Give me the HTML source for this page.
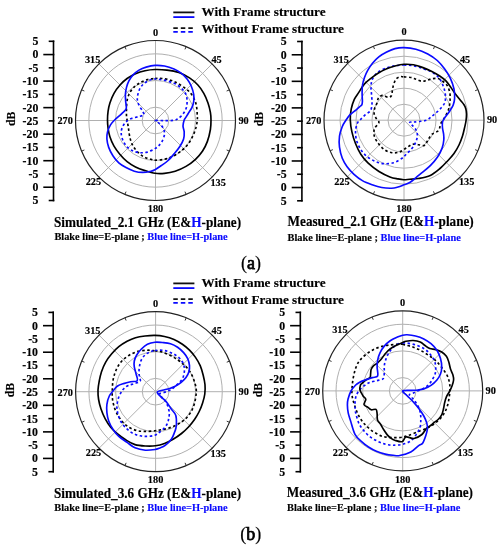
<!DOCTYPE html>
<html><head><meta charset="utf-8"><title>Radiation patterns</title><style>
html,body{margin:0;padding:0;background:#fff;}
svg{display:block;}
text{font-family:"Liberation Serif", "Times New Roman", serif;font-weight:bold;fill:#000;stroke:#000;stroke-width:0.15px;}
tspan.b{stroke:#0a0aff;}
.al{font-size:10.3px;}
.tl{font-size:11.8px;}
.tt{font-size:13.2px;}
.st{font-size:10.35px;}
.lg{font-size:13.2px;}
.sub{font-weight:normal;font-size:18px;stroke:#000;stroke-width:0.2px;}
.bl{stroke-width:0.75px;}
</style></head>
<body><svg width="504" height="550" viewBox="0 0 504 550">
<rect width="504" height="550" fill="#fff"/>
<line x1="173.3" y1="12.4" x2="194.4" y2="12.4" stroke="#111" stroke-width="1.8"/>
<line x1="173.3" y1="17.1" x2="194.4" y2="17.1" stroke="#0a0aff" stroke-width="1.8"/>
<line x1="173.3" y1="28.1" x2="194.4" y2="28.1" stroke="#111" stroke-width="1.8" stroke-dasharray="4.5 3"/>
<line x1="173.3" y1="31.9" x2="194.4" y2="31.9" stroke="#0a0aff" stroke-width="1.8" stroke-dasharray="4.5 3"/>
<text x="201.5" y="15.9" class="lg">With Frame structure</text>
<text x="201.5" y="33.3" class="lg">Without Frame structure</text>
<line x1="173.3" y1="283.4" x2="194.4" y2="283.4" stroke="#111" stroke-width="1.8"/>
<line x1="173.3" y1="288.1" x2="194.4" y2="288.1" stroke="#0a0aff" stroke-width="1.8"/>
<line x1="173.3" y1="299.1" x2="194.4" y2="299.1" stroke="#111" stroke-width="1.8" stroke-dasharray="4.5 3"/>
<line x1="173.3" y1="302.9" x2="194.4" y2="302.9" stroke="#0a0aff" stroke-width="1.8" stroke-dasharray="4.5 3"/>
<text x="201.5" y="286.9" class="lg">With Frame structure</text>
<text x="201.5" y="304.3" class="lg">Without Frame structure</text>
<circle cx="155.5" cy="120.5" r="13.33" fill="none" stroke="#b0b0b0" stroke-width="1"/>
<circle cx="155.5" cy="120.5" r="40.00" fill="none" stroke="#b0b0b0" stroke-width="1"/>
<circle cx="155.5" cy="120.5" r="66.67" fill="none" stroke="#b0b0b0" stroke-width="1"/>
<line x1="155.5" y1="120.5" x2="155.50" y2="40.50" stroke="#b0b0b0" stroke-width="1"/>
<line x1="155.5" y1="120.5" x2="212.07" y2="63.93" stroke="#b0b0b0" stroke-width="1"/>
<line x1="155.5" y1="120.5" x2="235.50" y2="120.50" stroke="#b0b0b0" stroke-width="1"/>
<line x1="155.5" y1="120.5" x2="212.07" y2="177.07" stroke="#b0b0b0" stroke-width="1"/>
<line x1="155.5" y1="120.5" x2="155.50" y2="200.50" stroke="#b0b0b0" stroke-width="1"/>
<line x1="155.5" y1="120.5" x2="98.93" y2="177.07" stroke="#b0b0b0" stroke-width="1"/>
<line x1="155.5" y1="120.5" x2="75.50" y2="120.50" stroke="#b0b0b0" stroke-width="1"/>
<line x1="155.5" y1="120.5" x2="98.93" y2="63.93" stroke="#b0b0b0" stroke-width="1"/>
<circle cx="155.5" cy="120.5" r="80.0" fill="none" stroke="#222" stroke-width="1.2"/>
<line x1="186.11" y1="46.59" x2="184.97" y2="49.36" stroke="#333" stroke-width="1"/>
<line x1="229.41" y1="89.89" x2="226.64" y2="91.03" stroke="#333" stroke-width="1"/>
<line x1="229.41" y1="151.11" x2="226.64" y2="149.97" stroke="#333" stroke-width="1"/>
<line x1="186.11" y1="194.41" x2="184.97" y2="191.64" stroke="#333" stroke-width="1"/>
<line x1="124.89" y1="194.41" x2="126.03" y2="191.64" stroke="#333" stroke-width="1"/>
<line x1="81.59" y1="151.11" x2="84.36" y2="149.97" stroke="#333" stroke-width="1"/>
<line x1="81.59" y1="89.89" x2="84.36" y2="91.03" stroke="#333" stroke-width="1"/>
<line x1="124.89" y1="46.59" x2="126.03" y2="49.36" stroke="#333" stroke-width="1"/>
<path d="M155.00,78.50 C157.45,78.32 159.52,78.22 162.10,78.50 C164.68,78.78 167.92,79.42 170.50,80.20 C173.08,80.98 175.22,81.90 177.60,83.20 C179.98,84.50 182.62,86.32 184.80,88.00 C186.98,89.68 189.02,91.22 190.70,93.30 C192.38,95.38 193.90,98.12 194.90,100.50 C195.90,102.88 196.30,105.02 196.70,107.60 C197.10,110.18 197.20,113.93 197.30,116.00 C197.40,118.07 197.50,118.15 197.30,120.00 C197.10,121.85 196.80,124.52 196.10,127.10 C195.40,129.68 194.40,132.72 193.10,135.50 C191.80,138.28 190.28,141.22 188.30,143.80 C186.32,146.38 183.77,148.92 181.20,151.00 C178.63,153.08 175.68,154.92 172.90,156.30 C170.12,157.68 167.48,158.65 164.50,159.30 C161.52,159.95 157.25,160.20 155.00,160.20 C152.75,160.20 152.87,159.85 151.00,159.30 C149.13,158.75 146.18,158.28 143.80,156.90 C141.42,155.52 138.68,153.18 136.70,151.00 C134.72,148.82 133.10,146.38 131.90,143.80 C130.70,141.22 130.10,138.28 129.50,135.50 C128.90,132.72 128.70,129.68 128.30,127.10 C127.90,124.52 127.40,121.85 127.10,120.00 C126.80,118.15 126.60,117.87 126.50,116.00 C126.40,114.13 126.40,111.38 126.50,108.80 C126.60,106.22 126.60,103.08 127.10,100.50 C127.60,97.92 128.30,95.58 129.50,93.30 C130.70,91.02 132.52,88.58 134.30,86.80 C136.08,85.02 138.02,83.80 140.20,82.60 C142.38,81.40 144.93,80.28 147.40,79.60 C149.87,78.92 152.55,78.68 155.00,78.50Z" fill="none" stroke="#000" stroke-width="1.65" stroke-linejoin="round" stroke-dasharray="2.5 2.5"/>
<path d="M155.50,120.50 C156.42,120.03 161.97,120.73 165.00,120.70 C168.03,120.67 171.60,120.60 173.70,120.30 C175.80,120.00 176.15,119.82 177.60,118.90 C179.05,117.98 181.00,116.48 182.40,114.80 C183.80,113.12 185.22,110.98 186.00,108.80 C186.78,106.62 187.10,104.08 187.10,101.70 C187.10,99.32 186.88,96.68 186.00,94.50 C185.12,92.32 183.60,90.38 181.80,88.60 C180.00,86.82 177.68,85.10 175.20,83.80 C172.72,82.50 169.77,81.57 166.90,80.80 C164.03,80.03 160.47,79.45 158.00,79.20 C155.53,78.95 154.07,78.83 152.10,79.30 C150.13,79.77 147.98,80.85 146.20,82.00 C144.42,83.15 142.68,84.52 141.40,86.20 C140.12,87.88 139.18,89.92 138.50,92.10 C137.82,94.28 137.22,97.12 137.30,99.30 C137.38,101.48 138.12,103.22 139.00,105.20 C139.88,107.18 141.80,109.60 142.60,111.20 C143.40,112.80 144.40,113.92 143.80,114.80 C143.20,115.68 141.05,115.88 139.00,116.50 C136.95,117.12 133.58,117.67 131.50,118.50 C129.42,119.33 127.92,120.25 126.50,121.50 C125.08,122.75 123.88,124.27 123.00,126.00 C122.12,127.73 121.30,129.73 121.20,131.90 C121.10,134.07 121.52,136.62 122.40,139.00 C123.28,141.38 124.72,144.20 126.50,146.20 C128.28,148.20 130.82,149.92 133.10,151.00 C135.38,152.08 137.82,152.52 140.20,152.70 C142.58,152.88 144.93,152.78 147.40,152.10 C149.87,151.42 153.15,149.62 155.00,148.60 C156.85,147.58 157.32,147.20 158.50,146.00 C159.68,144.80 161.10,143.35 162.10,141.40 C163.10,139.45 164.30,136.48 164.50,134.30 C164.70,132.12 164.13,130.10 163.30,128.30 C162.47,126.50 160.80,124.80 159.50,123.50 C158.20,122.20 154.58,120.97 155.50,120.50Z" fill="none" stroke="#0a0aff" stroke-width="1.65" stroke-linejoin="round" stroke-dasharray="2.5 2.5"/>
<path d="M155.00,69.50 C158.65,69.40 162.93,69.60 166.90,70.10 C170.87,70.60 175.03,71.20 178.80,72.50 C182.57,73.80 186.32,75.82 189.50,77.90 C192.68,79.98 195.52,82.43 197.90,85.00 C200.28,87.57 202.12,90.32 203.80,93.30 C205.48,96.28 206.90,99.72 208.00,102.90 C209.10,106.08 209.90,109.55 210.40,112.40 C210.90,115.25 211.00,117.15 211.00,120.00 C211.00,122.85 211.00,125.93 210.40,129.50 C209.80,133.07 208.70,137.82 207.40,141.40 C206.10,144.98 204.58,148.02 202.60,151.00 C200.62,153.98 198.27,156.73 195.50,159.30 C192.73,161.87 189.38,164.42 186.00,166.40 C182.62,168.38 178.78,170.03 175.20,171.20 C171.62,172.37 167.87,173.05 164.50,173.40 C161.13,173.75 158.25,173.77 155.00,173.30 C151.75,172.83 148.25,171.65 145.00,170.60 C141.75,169.55 138.48,168.48 135.50,167.00 C132.52,165.52 129.68,163.78 127.10,161.70 C124.52,159.62 122.18,157.08 120.00,154.50 C117.82,151.92 115.68,149.17 114.00,146.20 C112.32,143.23 110.88,139.68 109.90,136.70 C108.92,133.72 108.50,131.08 108.10,128.30 C107.70,125.52 107.50,122.85 107.50,120.00 C107.50,117.15 107.70,114.05 108.10,111.20 C108.50,108.35 108.92,105.88 109.90,102.90 C110.88,99.92 112.32,96.28 114.00,93.30 C115.68,90.32 117.82,87.47 120.00,85.00 C122.18,82.53 124.52,80.38 127.10,78.50 C129.68,76.62 132.52,75.00 135.50,73.70 C138.48,72.40 141.75,71.40 145.00,70.70 C148.25,70.00 151.35,69.60 155.00,69.50Z" fill="none" stroke="#000" stroke-width="1.65" stroke-linejoin="round"/>
<path d="M155.00,65.40 C158.05,65.22 161.33,65.42 164.50,66.00 C167.67,66.58 171.22,67.72 174.00,68.90 C176.78,70.08 179.02,71.42 181.20,73.10 C183.38,74.78 185.42,76.82 187.10,79.00 C188.78,81.18 190.20,83.62 191.30,86.20 C192.40,88.78 193.30,91.92 193.70,94.50 C194.10,97.08 194.00,99.52 193.70,101.70 C193.40,103.88 192.70,105.82 191.90,107.60 C191.10,109.38 189.88,110.82 188.90,112.40 C187.92,113.98 186.78,115.83 186.00,117.10 C185.22,118.37 184.70,118.52 184.20,120.00 C183.70,121.48 183.00,124.02 183.00,126.00 C183.00,127.98 184.10,129.73 184.20,131.90 C184.30,134.07 184.30,136.62 183.60,139.00 C182.90,141.38 181.50,143.82 180.00,146.20 C178.50,148.58 176.58,150.92 174.60,153.30 C172.62,155.68 170.37,158.42 168.10,160.50 C165.83,162.58 163.18,164.27 161.00,165.80 C158.82,167.33 156.67,168.80 155.00,169.70 C153.33,170.60 153.07,170.75 151.00,171.20 C148.93,171.65 145.38,172.40 142.60,172.40 C139.82,172.40 137.07,172.00 134.30,171.20 C131.53,170.40 128.58,168.98 126.00,167.60 C123.42,166.22 120.98,164.88 118.80,162.90 C116.62,160.92 114.58,158.28 112.90,155.70 C111.22,153.12 109.70,150.18 108.70,147.40 C107.70,144.62 107.10,141.58 106.90,139.00 C106.70,136.42 106.90,134.27 107.50,131.90 C108.10,129.53 109.32,126.78 110.50,124.80 C111.68,122.82 112.72,121.87 114.60,120.00 C116.48,118.13 119.87,115.47 121.80,113.60 C123.73,111.73 125.55,110.78 126.20,108.80 C126.85,106.82 125.83,104.08 125.70,101.70 C125.57,99.32 125.27,96.88 125.40,94.50 C125.53,92.12 125.92,89.68 126.50,87.40 C127.08,85.12 127.80,82.88 128.90,80.80 C130.00,78.72 131.42,76.68 133.10,74.90 C134.78,73.12 136.82,71.40 139.00,70.10 C141.18,68.80 143.53,67.88 146.20,67.10 C148.87,66.32 151.95,65.58 155.00,65.40Z" fill="none" stroke="#0a0aff" stroke-width="1.65" stroke-linejoin="round"/>
<text x="155.50" y="35.50" text-anchor="middle" class="al">0</text>
<text x="211.40" y="63.00" text-anchor="start" class="al">45</text>
<text x="238.40" y="123.50" text-anchor="start" class="al">90</text>
<text x="210.40" y="185.50" text-anchor="start" class="al">135</text>
<text x="155.50" y="212.20" text-anchor="middle" class="al">180</text>
<text x="101.10" y="185.20" text-anchor="end" class="al">225</text>
<text x="72.90" y="124.30" text-anchor="end" class="al">270</text>
<text x="100.40" y="63.00" text-anchor="end" class="al">315</text>
<line x1="53.5" y1="40.5" x2="53.5" y2="201.3" stroke="#000" stroke-width="1.6"/>
<line x1="48.70" y1="41.30" x2="54.3" y2="41.30" stroke="#000" stroke-width="1.6"/>
<text x="38.30" y="45.20" text-anchor="end" class="tl">5</text>
<line x1="43.30" y1="54.57" x2="54.3" y2="54.57" stroke="#000" stroke-width="1.6"/>
<text x="38.30" y="58.47" text-anchor="end" class="tl">0</text>
<line x1="48.70" y1="67.83" x2="54.3" y2="67.83" stroke="#000" stroke-width="1.6"/>
<text x="38.30" y="71.73" text-anchor="end" class="tl">-5</text>
<line x1="43.30" y1="81.10" x2="54.3" y2="81.10" stroke="#000" stroke-width="1.6"/>
<text x="38.30" y="85.00" text-anchor="end" class="tl">-10</text>
<line x1="48.70" y1="94.37" x2="54.3" y2="94.37" stroke="#000" stroke-width="1.6"/>
<text x="38.30" y="98.27" text-anchor="end" class="tl">-15</text>
<line x1="43.30" y1="107.63" x2="54.3" y2="107.63" stroke="#000" stroke-width="1.6"/>
<text x="38.30" y="111.53" text-anchor="end" class="tl">-20</text>
<line x1="48.70" y1="120.90" x2="54.3" y2="120.90" stroke="#000" stroke-width="1.6"/>
<text x="38.30" y="124.80" text-anchor="end" class="tl">-25</text>
<line x1="43.30" y1="134.17" x2="54.3" y2="134.17" stroke="#000" stroke-width="1.6"/>
<text x="38.30" y="138.07" text-anchor="end" class="tl">-20</text>
<line x1="48.70" y1="147.43" x2="54.3" y2="147.43" stroke="#000" stroke-width="1.6"/>
<text x="38.30" y="151.33" text-anchor="end" class="tl">-15</text>
<line x1="43.30" y1="160.70" x2="54.3" y2="160.70" stroke="#000" stroke-width="1.6"/>
<text x="38.30" y="164.60" text-anchor="end" class="tl">-10</text>
<line x1="48.70" y1="173.97" x2="54.3" y2="173.97" stroke="#000" stroke-width="1.6"/>
<text x="38.30" y="177.87" text-anchor="end" class="tl">-5</text>
<line x1="43.30" y1="187.23" x2="54.3" y2="187.23" stroke="#000" stroke-width="1.6"/>
<text x="38.30" y="191.13" text-anchor="end" class="tl">0</text>
<line x1="48.70" y1="200.50" x2="54.3" y2="200.50" stroke="#000" stroke-width="1.6"/>
<text x="38.30" y="204.40" text-anchor="end" class="tl">5</text>
<text transform="translate(14.70,118.90) rotate(-90)" text-anchor="middle" class="tl">dB</text>
<circle cx="404.0" cy="120.2" r="16.00" fill="none" stroke="#b0b0b0" stroke-width="1"/>
<circle cx="404.0" cy="120.2" r="32.00" fill="none" stroke="#b0b0b0" stroke-width="1"/>
<circle cx="404.0" cy="120.2" r="48.00" fill="none" stroke="#b0b0b0" stroke-width="1"/>
<circle cx="404.0" cy="120.2" r="64.00" fill="none" stroke="#b0b0b0" stroke-width="1"/>
<line x1="404.0" y1="120.2" x2="404.00" y2="40.20" stroke="#b0b0b0" stroke-width="1"/>
<line x1="404.0" y1="120.2" x2="460.57" y2="63.63" stroke="#b0b0b0" stroke-width="1"/>
<line x1="404.0" y1="120.2" x2="484.00" y2="120.20" stroke="#b0b0b0" stroke-width="1"/>
<line x1="404.0" y1="120.2" x2="460.57" y2="176.77" stroke="#b0b0b0" stroke-width="1"/>
<line x1="404.0" y1="120.2" x2="404.00" y2="200.20" stroke="#b0b0b0" stroke-width="1"/>
<line x1="404.0" y1="120.2" x2="347.43" y2="176.77" stroke="#b0b0b0" stroke-width="1"/>
<line x1="404.0" y1="120.2" x2="324.00" y2="120.20" stroke="#b0b0b0" stroke-width="1"/>
<line x1="404.0" y1="120.2" x2="347.43" y2="63.63" stroke="#b0b0b0" stroke-width="1"/>
<circle cx="404.0" cy="120.2" r="80.0" fill="none" stroke="#222" stroke-width="1.2"/>
<line x1="434.61" y1="46.29" x2="433.47" y2="49.06" stroke="#333" stroke-width="1"/>
<line x1="477.91" y1="89.59" x2="475.14" y2="90.73" stroke="#333" stroke-width="1"/>
<line x1="477.91" y1="150.81" x2="475.14" y2="149.67" stroke="#333" stroke-width="1"/>
<line x1="434.61" y1="194.11" x2="433.47" y2="191.34" stroke="#333" stroke-width="1"/>
<line x1="373.39" y1="194.11" x2="374.53" y2="191.34" stroke="#333" stroke-width="1"/>
<line x1="330.09" y1="150.81" x2="332.86" y2="149.67" stroke="#333" stroke-width="1"/>
<line x1="330.09" y1="89.59" x2="332.86" y2="90.73" stroke="#333" stroke-width="1"/>
<line x1="373.39" y1="46.29" x2="374.53" y2="49.06" stroke="#333" stroke-width="1"/>
<path d="M404.00,76.90 C405.83,77.03 409.10,77.10 411.10,77.50 C413.10,77.90 414.20,78.67 416.00,79.30 C417.80,79.93 420.10,81.13 421.90,81.30 C423.70,81.47 425.15,80.72 426.80,80.30 C428.45,79.88 429.98,79.10 431.80,78.80 C433.62,78.50 435.83,78.05 437.70,78.50 C439.57,78.95 441.37,80.25 443.00,81.50 C444.63,82.75 446.37,84.13 447.50,86.00 C448.63,87.87 449.37,90.58 449.80,92.70 C450.23,94.82 450.13,96.72 450.10,98.70 C450.07,100.68 449.95,102.53 449.60,104.60 C449.25,106.67 448.88,108.85 448.00,111.10 C447.12,113.35 445.50,116.02 444.30,118.10 C443.10,120.18 441.77,121.53 440.80,123.60 C439.83,125.67 440.02,128.68 438.50,130.50 C436.98,132.32 433.57,132.72 431.70,134.50 C429.83,136.28 428.53,139.38 427.30,141.20 C426.07,143.02 425.80,144.82 424.30,145.40 C422.80,145.98 420.28,144.88 418.30,144.70 C416.32,144.52 414.37,143.78 412.40,144.30 C410.43,144.82 408.65,146.52 406.50,147.80 C404.35,149.08 401.92,151.18 399.50,152.00 C397.08,152.82 394.48,153.07 392.00,152.70 C389.52,152.33 386.83,151.28 384.60,149.80 C382.37,148.32 380.30,146.03 378.60,143.80 C376.90,141.57 375.10,138.88 374.40,136.40 C373.70,133.92 373.65,131.22 374.40,128.90 C375.15,126.58 378.55,124.17 378.90,122.50 C379.25,120.83 377.28,120.32 376.50,118.90 C375.72,117.48 374.53,115.65 374.20,114.00 C373.87,112.35 374.07,110.75 374.50,109.00 C374.93,107.25 376.13,105.33 376.80,103.50 C377.47,101.67 377.53,99.35 378.50,98.00 C379.47,96.65 380.97,95.52 382.60,95.40 C384.23,95.28 386.82,97.28 388.30,97.30 C389.78,97.32 390.82,96.72 391.50,95.50 C392.18,94.28 392.07,91.75 392.40,90.00 C392.73,88.25 392.92,86.78 393.50,85.00 C394.08,83.22 394.80,80.68 395.90,79.30 C397.00,77.92 398.75,77.10 400.10,76.70 C401.45,76.30 402.17,76.77 404.00,76.90Z" fill="none" stroke="#000" stroke-width="1.65" stroke-linejoin="round" stroke-dasharray="2.5 2.5"/>
<path d="M404.00,65.00 C407.15,65.02 410.60,65.25 413.90,65.90 C417.20,66.55 420.98,67.98 423.80,68.90 C426.62,69.82 428.82,70.42 430.80,71.40 C432.78,72.38 434.22,73.57 435.70,74.80 C437.18,76.03 438.53,77.13 439.70,78.80 C440.87,80.47 441.87,82.82 442.70,84.80 C443.53,86.78 444.23,88.72 444.70,90.70 C445.17,92.68 445.48,94.72 445.50,96.70 C445.52,98.68 445.47,100.80 444.80,102.60 C444.13,104.40 442.97,105.77 441.50,107.50 C440.03,109.23 437.75,111.42 436.00,113.00 C434.25,114.58 432.60,115.80 431.00,117.00 C429.40,118.20 428.37,119.45 426.40,120.20 C424.43,120.95 421.38,121.18 419.20,121.50 C417.02,121.82 414.88,121.97 413.30,122.10 C411.72,122.23 409.90,121.80 409.70,122.30 C409.50,122.80 411.10,123.93 412.10,125.10 C413.10,126.27 414.83,127.82 415.70,129.30 C416.57,130.78 417.10,132.42 417.30,134.00 C417.50,135.58 417.32,137.10 416.90,138.80 C416.48,140.50 415.78,142.42 414.80,144.20 C413.82,145.98 412.47,147.78 411.00,149.50 C409.53,151.22 407.50,153.03 406.00,154.50 C404.50,155.97 404.08,156.92 402.00,158.30 C399.92,159.68 396.65,161.92 393.50,162.80 C390.35,163.68 386.32,163.92 383.10,163.60 C379.88,163.28 377.05,162.22 374.20,160.90 C371.35,159.58 368.37,157.80 366.00,155.70 C363.63,153.60 361.62,151.03 360.00,148.30 C358.38,145.57 357.03,142.28 356.30,139.30 C355.57,136.32 355.40,133.12 355.60,130.40 C355.80,127.68 356.68,124.82 357.50,123.00 C358.32,121.18 359.18,120.88 360.50,119.50 C361.82,118.12 363.73,116.18 365.40,114.70 C367.07,113.22 369.40,112.45 370.50,110.60 C371.60,108.75 371.82,106.15 372.00,103.60 C372.18,101.05 371.77,97.98 371.60,95.30 C371.43,92.62 370.98,89.87 371.00,87.50 C371.02,85.13 371.20,82.90 371.70,81.10 C372.20,79.30 372.95,78.22 374.00,76.70 C375.05,75.18 375.88,73.45 378.00,72.00 C380.12,70.55 383.87,69.03 386.70,68.00 C389.53,66.97 392.12,66.30 395.00,65.80 C397.88,65.30 400.85,64.98 404.00,65.00Z" fill="none" stroke="#0a0aff" stroke-width="1.65" stroke-linejoin="round" stroke-dasharray="2.5 2.5"/>
<path d="M404.00,64.30 C407.08,64.10 410.33,64.25 413.50,64.80 C416.67,65.35 420.02,66.53 423.00,67.60 C425.98,68.67 428.62,69.80 431.40,71.20 C434.18,72.60 437.32,74.42 439.70,76.00 C442.08,77.58 443.92,78.92 445.70,80.70 C447.48,82.48 448.82,84.52 450.40,86.70 C451.98,88.88 453.60,91.62 455.20,93.80 C456.80,95.98 458.53,97.97 460.00,99.80 C461.47,101.63 463.03,103.30 464.00,104.80 C464.97,106.30 465.38,107.27 465.80,108.80 C466.22,110.33 466.47,111.97 466.50,114.00 C466.53,116.03 466.33,118.67 466.00,121.00 C465.67,123.33 465.08,125.50 464.50,128.00 C463.92,130.50 463.42,133.17 462.50,136.00 C461.58,138.83 460.42,142.08 459.00,145.00 C457.58,147.92 455.92,150.83 454.00,153.50 C452.08,156.17 449.83,158.50 447.50,161.00 C445.17,163.50 442.87,166.10 440.00,168.50 C437.13,170.90 433.92,173.73 430.30,175.40 C426.68,177.07 421.72,177.87 418.30,178.50 C414.88,179.13 412.22,179.00 409.80,179.20 C407.38,179.40 405.78,179.75 403.80,179.70 C401.82,179.65 400.22,179.37 397.90,178.90 C395.58,178.43 393.05,178.13 389.90,176.90 C386.75,175.67 382.62,173.78 379.00,171.50 C375.38,169.22 371.23,166.08 368.20,163.20 C365.17,160.32 362.90,157.43 360.80,154.20 C358.70,150.97 357.08,147.52 355.60,143.80 C354.12,140.08 352.78,135.87 351.90,131.90 C351.02,127.93 350.42,123.78 350.30,120.00 C350.18,116.22 350.53,112.63 351.20,109.20 C351.87,105.77 353.03,102.20 354.30,99.40 C355.57,96.60 357.10,94.98 358.80,92.40 C360.50,89.82 362.48,86.25 364.50,83.90 C366.52,81.55 368.52,80.15 370.90,78.30 C373.28,76.45 376.17,74.38 378.80,72.80 C381.43,71.22 384.00,69.93 386.70,68.80 C389.40,67.67 392.12,66.75 395.00,66.00 C397.88,65.25 400.92,64.50 404.00,64.30Z" fill="none" stroke="#000" stroke-width="1.65" stroke-linejoin="round"/>
<path d="M404.00,47.60 C407.48,47.70 411.93,48.15 415.90,49.20 C419.87,50.25 424.23,52.02 427.80,53.90 C431.37,55.78 434.52,58.02 437.30,60.50 C440.08,62.98 442.32,65.83 444.50,68.80 C446.68,71.77 448.82,74.93 450.40,78.30 C451.98,81.67 453.30,85.62 454.00,89.00 C454.70,92.38 454.73,95.93 454.60,98.60 C454.47,101.27 453.80,103.27 453.20,105.00 C452.60,106.73 451.87,107.58 451.00,109.00 C450.13,110.42 449.08,112.00 448.00,113.50 C446.92,115.00 445.42,116.58 444.50,118.00 C443.58,119.42 442.83,120.33 442.50,122.00 C442.17,123.67 442.32,126.00 442.50,128.00 C442.68,130.00 443.38,132.00 443.60,134.00 C443.82,136.00 444.03,137.68 443.80,140.00 C443.57,142.32 443.22,145.10 442.20,147.90 C441.18,150.70 439.68,153.83 437.70,156.80 C435.72,159.77 432.97,163.02 430.30,165.70 C427.63,168.38 424.13,170.87 421.70,172.90 C419.27,174.93 417.68,176.30 415.70,177.90 C413.72,179.50 411.75,181.35 409.80,182.50 C407.85,183.65 405.97,184.05 404.00,184.80 C402.03,185.55 400.07,186.43 398.00,187.00 C395.93,187.57 394.30,188.12 391.60,188.20 C388.90,188.28 385.05,188.08 381.80,187.50 C378.55,186.92 375.33,185.85 372.10,184.70 C368.87,183.55 365.42,182.33 362.40,180.60 C359.38,178.87 356.55,176.62 354.00,174.30 C351.45,171.98 349.05,169.37 347.10,166.70 C345.15,164.03 343.57,161.55 342.30,158.30 C341.03,155.05 339.97,150.90 339.50,147.20 C339.03,143.50 339.03,139.55 339.50,136.10 C339.97,132.65 341.23,129.13 342.30,126.50 C343.37,123.87 344.60,122.27 345.90,120.30 C347.20,118.33 348.38,116.45 350.10,114.70 C351.82,112.95 354.58,111.15 356.20,109.80 C357.82,108.45 358.87,107.43 359.80,106.60 C360.73,105.77 361.37,105.65 361.80,104.80 C362.23,103.95 362.35,103.37 362.40,101.50 C362.45,99.63 362.08,96.35 362.10,93.60 C362.12,90.85 362.10,87.68 362.50,85.00 C362.90,82.32 363.63,79.93 364.50,77.50 C365.37,75.07 366.37,72.77 367.70,70.40 C369.03,68.03 370.65,65.55 372.50,63.30 C374.35,61.05 376.43,58.77 378.80,56.90 C381.17,55.03 384.00,53.48 386.70,52.10 C389.40,50.72 392.12,49.35 395.00,48.60 C397.88,47.85 400.52,47.50 404.00,47.60Z" fill="none" stroke="#0a0aff" stroke-width="1.65" stroke-linejoin="round"/>
<text x="404.00" y="35.20" text-anchor="middle" class="al">0</text>
<text x="459.90" y="62.70" text-anchor="start" class="al">45</text>
<text x="486.90" y="123.20" text-anchor="start" class="al">90</text>
<text x="458.90" y="185.20" text-anchor="start" class="al">135</text>
<text x="404.00" y="211.90" text-anchor="middle" class="al">180</text>
<text x="349.60" y="184.90" text-anchor="end" class="al">225</text>
<text x="321.40" y="124.00" text-anchor="end" class="al">270</text>
<text x="348.90" y="62.70" text-anchor="end" class="al">315</text>
<line x1="301.9" y1="40.7" x2="301.9" y2="201.60000000000002" stroke="#000" stroke-width="1.6"/>
<line x1="297.10" y1="41.50" x2="302.7" y2="41.50" stroke="#000" stroke-width="1.6"/>
<text x="286.70" y="45.40" text-anchor="end" class="tl">5</text>
<line x1="291.70" y1="54.77" x2="302.7" y2="54.77" stroke="#000" stroke-width="1.6"/>
<text x="286.70" y="58.67" text-anchor="end" class="tl">0</text>
<line x1="297.10" y1="68.05" x2="302.7" y2="68.05" stroke="#000" stroke-width="1.6"/>
<text x="286.70" y="71.95" text-anchor="end" class="tl">-5</text>
<line x1="291.70" y1="81.33" x2="302.7" y2="81.33" stroke="#000" stroke-width="1.6"/>
<text x="286.70" y="85.23" text-anchor="end" class="tl">-10</text>
<line x1="297.10" y1="94.60" x2="302.7" y2="94.60" stroke="#000" stroke-width="1.6"/>
<text x="286.70" y="98.50" text-anchor="end" class="tl">-15</text>
<line x1="291.70" y1="107.88" x2="302.7" y2="107.88" stroke="#000" stroke-width="1.6"/>
<text x="286.70" y="111.78" text-anchor="end" class="tl">-20</text>
<line x1="297.10" y1="121.15" x2="302.7" y2="121.15" stroke="#000" stroke-width="1.6"/>
<text x="286.70" y="125.05" text-anchor="end" class="tl">-25</text>
<line x1="291.70" y1="134.43" x2="302.7" y2="134.43" stroke="#000" stroke-width="1.6"/>
<text x="286.70" y="138.33" text-anchor="end" class="tl">-20</text>
<line x1="297.10" y1="147.70" x2="302.7" y2="147.70" stroke="#000" stroke-width="1.6"/>
<text x="286.70" y="151.60" text-anchor="end" class="tl">-15</text>
<line x1="291.70" y1="160.98" x2="302.7" y2="160.98" stroke="#000" stroke-width="1.6"/>
<text x="286.70" y="164.88" text-anchor="end" class="tl">-10</text>
<line x1="297.10" y1="174.25" x2="302.7" y2="174.25" stroke="#000" stroke-width="1.6"/>
<text x="286.70" y="178.15" text-anchor="end" class="tl">-5</text>
<line x1="291.70" y1="187.53" x2="302.7" y2="187.53" stroke="#000" stroke-width="1.6"/>
<text x="286.70" y="191.43" text-anchor="end" class="tl">0</text>
<line x1="297.10" y1="200.80" x2="302.7" y2="200.80" stroke="#000" stroke-width="1.6"/>
<text x="286.70" y="204.70" text-anchor="end" class="tl">5</text>
<text transform="translate(263.10,119.15) rotate(-90)" text-anchor="middle" class="tl">dB</text>
<circle cx="155.6" cy="391.7" r="13.33" fill="none" stroke="#b0b0b0" stroke-width="1"/>
<circle cx="155.6" cy="391.7" r="40.00" fill="none" stroke="#b0b0b0" stroke-width="1"/>
<circle cx="155.6" cy="391.7" r="66.67" fill="none" stroke="#b0b0b0" stroke-width="1"/>
<line x1="155.6" y1="391.7" x2="155.60" y2="311.70" stroke="#b0b0b0" stroke-width="1"/>
<line x1="155.6" y1="391.7" x2="212.17" y2="335.13" stroke="#b0b0b0" stroke-width="1"/>
<line x1="155.6" y1="391.7" x2="235.60" y2="391.70" stroke="#b0b0b0" stroke-width="1"/>
<line x1="155.6" y1="391.7" x2="212.17" y2="448.27" stroke="#b0b0b0" stroke-width="1"/>
<line x1="155.6" y1="391.7" x2="155.60" y2="471.70" stroke="#b0b0b0" stroke-width="1"/>
<line x1="155.6" y1="391.7" x2="99.03" y2="448.27" stroke="#b0b0b0" stroke-width="1"/>
<line x1="155.6" y1="391.7" x2="75.60" y2="391.70" stroke="#b0b0b0" stroke-width="1"/>
<line x1="155.6" y1="391.7" x2="99.03" y2="335.13" stroke="#b0b0b0" stroke-width="1"/>
<circle cx="155.6" cy="391.7" r="80.0" fill="none" stroke="#222" stroke-width="1.2"/>
<line x1="186.21" y1="317.79" x2="185.07" y2="320.56" stroke="#333" stroke-width="1"/>
<line x1="229.51" y1="361.09" x2="226.74" y2="362.23" stroke="#333" stroke-width="1"/>
<line x1="229.51" y1="422.31" x2="226.74" y2="421.17" stroke="#333" stroke-width="1"/>
<line x1="186.21" y1="465.61" x2="185.07" y2="462.84" stroke="#333" stroke-width="1"/>
<line x1="124.99" y1="465.61" x2="126.13" y2="462.84" stroke="#333" stroke-width="1"/>
<line x1="81.69" y1="422.31" x2="84.46" y2="421.17" stroke="#333" stroke-width="1"/>
<line x1="81.69" y1="361.09" x2="84.46" y2="362.23" stroke="#333" stroke-width="1"/>
<line x1="124.99" y1="317.79" x2="126.13" y2="320.56" stroke="#333" stroke-width="1"/>
<path d="M155.00,350.80 C157.45,351.10 159.52,351.20 162.10,352.00 C164.68,352.80 167.92,354.30 170.50,355.60 C173.08,356.90 175.42,358.32 177.60,359.80 C179.78,361.28 181.82,362.92 183.60,364.50 C185.38,366.08 186.92,367.52 188.30,369.30 C189.68,371.08 190.90,373.22 191.90,375.20 C192.90,377.18 193.60,379.02 194.30,381.20 C195.00,383.38 195.80,386.08 196.10,388.30 C196.40,390.52 196.40,391.88 196.10,394.50 C195.80,397.12 195.20,401.02 194.30,404.00 C193.40,406.98 192.28,409.82 190.70,412.40 C189.12,414.98 186.98,417.52 184.80,419.50 C182.62,421.48 180.18,422.90 177.60,424.30 C175.02,425.70 172.07,426.98 169.30,427.90 C166.53,428.82 163.38,429.32 161.00,429.80 C158.62,430.28 157.67,430.53 155.00,430.80 C152.33,431.07 148.05,431.45 145.00,431.40 C141.95,431.35 139.48,431.25 136.70,430.50 C133.92,429.75 130.78,428.48 128.30,426.90 C125.82,425.32 123.78,423.38 121.80,421.00 C119.82,418.62 117.78,415.38 116.40,412.60 C115.02,409.82 114.18,406.88 113.50,404.30 C112.82,401.72 112.50,399.48 112.30,397.10 C112.10,394.72 112.20,392.65 112.30,390.00 C112.40,387.35 112.52,383.87 112.90,381.20 C113.28,378.53 113.82,376.38 114.60,374.00 C115.38,371.62 116.30,369.17 117.60,366.90 C118.90,364.63 120.42,362.38 122.40,360.40 C124.38,358.42 126.92,356.50 129.50,355.00 C132.08,353.50 134.92,352.20 137.90,351.40 C140.88,350.60 144.55,350.30 147.40,350.20 C150.25,350.10 152.55,350.50 155.00,350.80Z" fill="none" stroke="#000" stroke-width="1.65" stroke-linejoin="round" stroke-dasharray="2.5 2.5"/>
<path d="M155.00,350.50 C157.05,350.20 159.72,349.95 162.10,350.20 C164.48,350.45 166.92,351.10 169.30,352.00 C171.68,352.90 174.32,354.10 176.40,355.60 C178.48,357.10 180.50,359.12 181.80,361.00 C183.10,362.88 183.80,364.92 184.20,366.90 C184.60,368.88 184.50,370.92 184.20,372.90 C183.90,374.88 183.32,377.12 182.40,378.80 C181.48,380.48 180.10,381.58 178.70,383.00 C177.30,384.42 175.32,386.18 174.00,387.30 C172.68,388.42 172.17,388.93 170.80,389.70 C169.43,390.47 167.52,391.28 165.80,391.90 C164.08,392.52 161.58,393.02 160.50,393.40 C159.42,393.78 159.05,393.52 159.30,394.20 C159.55,394.88 160.92,396.25 162.00,397.50 C163.08,398.75 164.75,400.00 165.80,401.70 C166.85,403.40 167.72,405.70 168.30,407.70 C168.88,409.70 169.25,411.82 169.30,413.70 C169.35,415.58 168.88,417.45 168.60,419.00 C168.32,420.55 168.28,421.52 167.60,423.00 C166.92,424.48 165.80,426.40 164.50,427.90 C163.20,429.40 161.38,430.78 159.80,432.00 C158.22,433.22 157.07,434.47 155.00,435.20 C152.93,435.93 149.87,436.30 147.40,436.40 C144.93,436.50 142.58,436.28 140.20,435.80 C137.82,435.32 135.47,434.78 133.10,433.50 C130.73,432.22 128.08,430.18 126.00,428.10 C123.92,426.02 122.00,423.58 120.60,421.00 C119.20,418.42 118.20,415.18 117.60,412.60 C117.00,410.02 116.80,408.08 117.00,405.50 C117.20,402.92 118.00,399.48 118.80,397.10 C119.60,394.72 120.90,392.67 121.80,391.20 C122.70,389.73 123.12,389.27 124.20,388.30 C125.28,387.33 126.62,386.18 128.30,385.40 C129.98,384.62 132.32,384.30 134.30,383.60 C136.28,382.90 139.32,382.20 140.20,381.20 C141.08,380.20 139.80,379.18 139.60,377.60 C139.40,376.02 139.00,373.68 139.00,371.70 C139.00,369.72 139.20,367.68 139.60,365.70 C140.00,363.72 140.50,361.58 141.40,359.80 C142.30,358.02 143.60,356.30 145.00,355.00 C146.40,353.70 148.13,352.75 149.80,352.00 C151.47,351.25 152.95,350.80 155.00,350.50Z" fill="none" stroke="#0a0aff" stroke-width="1.65" stroke-linejoin="round" stroke-dasharray="2.5 2.5"/>
<path d="M155.00,335.40 C158.25,335.48 161.33,335.82 164.50,336.50 C167.67,337.18 171.02,338.20 174.00,339.50 C176.98,340.80 179.82,342.52 182.40,344.30 C184.98,346.08 187.32,348.02 189.50,350.20 C191.68,352.38 193.72,354.82 195.50,357.40 C197.28,359.98 198.92,362.73 200.20,365.70 C201.48,368.67 202.40,372.02 203.20,375.20 C204.00,378.38 204.73,381.67 205.00,384.80 C205.27,387.93 205.20,390.97 204.80,394.00 C204.40,397.03 203.53,400.08 202.60,403.00 C201.67,405.92 200.55,408.75 199.20,411.50 C197.85,414.25 196.28,416.92 194.50,419.50 C192.72,422.08 190.67,424.67 188.50,427.00 C186.33,429.33 184.00,431.50 181.50,433.50 C179.00,435.50 176.33,437.33 173.50,439.00 C170.67,440.67 167.50,442.37 164.50,443.50 C161.50,444.63 158.70,445.38 155.50,445.80 C152.30,446.22 148.72,446.20 145.30,446.00 C141.88,445.80 138.22,445.60 135.00,444.60 C131.78,443.60 128.90,441.77 126.00,440.00 C123.10,438.23 120.18,436.18 117.60,434.00 C115.02,431.82 112.58,429.47 110.50,426.90 C108.42,424.33 106.68,421.58 105.10,418.60 C103.52,415.62 102.08,412.18 101.00,409.00 C99.92,405.82 99.10,402.67 98.60,399.50 C98.10,396.33 97.90,393.05 98.00,390.00 C98.10,386.95 98.62,384.25 99.20,381.20 C99.78,378.15 100.42,374.88 101.50,371.70 C102.58,368.52 104.00,365.08 105.70,362.10 C107.40,359.12 109.52,356.37 111.70,353.80 C113.88,351.23 116.23,348.78 118.80,346.70 C121.37,344.62 124.32,342.80 127.10,341.30 C129.88,339.80 132.52,338.58 135.50,337.70 C138.48,336.82 141.75,336.38 145.00,336.00 C148.25,335.62 151.75,335.32 155.00,335.40Z" fill="none" stroke="#000" stroke-width="1.65" stroke-linejoin="round"/>
<path d="M155.00,342.20 C157.45,341.90 159.52,342.25 162.10,342.50 C164.68,342.75 167.92,342.90 170.50,343.70 C173.08,344.50 175.42,345.82 177.60,347.30 C179.78,348.78 181.92,350.72 183.60,352.60 C185.28,354.48 186.72,356.42 187.70,358.60 C188.68,360.78 189.30,363.52 189.50,365.70 C189.70,367.88 189.48,369.72 188.90,371.70 C188.32,373.68 187.28,375.82 186.00,377.60 C184.72,379.38 183.00,380.95 181.20,382.40 C179.40,383.85 177.23,385.25 175.20,386.30 C173.17,387.35 170.78,388.12 169.00,388.70 C167.22,389.28 166.43,389.25 164.50,389.80 C162.57,390.35 157.98,390.82 157.40,392.00 C156.82,393.18 159.52,395.28 161.00,396.90 C162.48,398.52 164.62,399.72 166.30,401.70 C167.98,403.68 169.52,406.52 171.10,408.80 C172.68,411.08 174.92,412.82 175.80,415.40 C176.68,417.98 176.40,422.12 176.40,424.30 C176.40,426.48 176.08,427.23 175.80,428.50 C175.52,429.77 175.42,430.15 174.70,431.90 C173.98,433.65 173.08,436.75 171.50,439.00 C169.92,441.25 167.12,443.90 165.20,445.40 C163.28,446.90 161.62,447.33 160.00,448.00 C158.38,448.67 157.95,449.03 155.50,449.40 C153.05,449.77 148.72,450.47 145.30,450.20 C141.88,449.93 138.03,449.10 135.00,447.80 C131.97,446.50 129.80,444.30 127.10,442.40 C124.40,440.50 121.17,438.58 118.80,436.40 C116.43,434.22 114.58,431.87 112.90,429.30 C111.22,426.73 109.70,423.78 108.70,421.00 C107.70,418.22 107.20,415.38 106.90,412.60 C106.60,409.82 106.50,407.07 106.90,404.30 C107.30,401.53 108.15,398.38 109.30,396.00 C110.45,393.62 112.42,391.67 113.80,390.00 C115.18,388.33 115.97,387.07 117.60,386.00 C119.23,384.93 121.42,384.30 123.60,383.60 C125.78,382.90 128.42,382.30 130.70,381.80 C132.98,381.30 136.40,381.90 137.30,380.60 C138.20,379.30 136.60,376.28 136.10,374.00 C135.60,371.72 134.60,369.07 134.30,366.90 C134.00,364.73 133.90,362.98 134.30,361.00 C134.70,359.02 135.52,357.00 136.70,355.00 C137.88,353.00 139.62,350.78 141.40,349.00 C143.18,347.22 145.13,345.43 147.40,344.30 C149.67,343.17 152.55,342.50 155.00,342.20Z" fill="none" stroke="#0a0aff" stroke-width="1.65" stroke-linejoin="round"/>
<text x="155.60" y="306.70" text-anchor="middle" class="al">0</text>
<text x="211.50" y="334.20" text-anchor="start" class="al">45</text>
<text x="238.50" y="394.70" text-anchor="start" class="al">90</text>
<text x="210.50" y="456.70" text-anchor="start" class="al">135</text>
<text x="155.60" y="483.40" text-anchor="middle" class="al">180</text>
<text x="101.20" y="456.40" text-anchor="end" class="al">225</text>
<text x="73.00" y="395.50" text-anchor="end" class="al">270</text>
<text x="100.50" y="334.20" text-anchor="end" class="al">315</text>
<line x1="53.2" y1="311.59999999999997" x2="53.2" y2="472.5" stroke="#000" stroke-width="1.6"/>
<line x1="48.40" y1="312.40" x2="54.0" y2="312.40" stroke="#000" stroke-width="1.6"/>
<text x="38.00" y="316.30" text-anchor="end" class="tl">5</text>
<line x1="43.00" y1="325.67" x2="54.0" y2="325.67" stroke="#000" stroke-width="1.6"/>
<text x="38.00" y="329.57" text-anchor="end" class="tl">0</text>
<line x1="48.40" y1="338.95" x2="54.0" y2="338.95" stroke="#000" stroke-width="1.6"/>
<text x="38.00" y="342.85" text-anchor="end" class="tl">-5</text>
<line x1="43.00" y1="352.22" x2="54.0" y2="352.22" stroke="#000" stroke-width="1.6"/>
<text x="38.00" y="356.12" text-anchor="end" class="tl">-10</text>
<line x1="48.40" y1="365.50" x2="54.0" y2="365.50" stroke="#000" stroke-width="1.6"/>
<text x="38.00" y="369.40" text-anchor="end" class="tl">-15</text>
<line x1="43.00" y1="378.77" x2="54.0" y2="378.77" stroke="#000" stroke-width="1.6"/>
<text x="38.00" y="382.67" text-anchor="end" class="tl">-20</text>
<line x1="48.40" y1="392.05" x2="54.0" y2="392.05" stroke="#000" stroke-width="1.6"/>
<text x="38.00" y="395.95" text-anchor="end" class="tl">-25</text>
<line x1="43.00" y1="405.32" x2="54.0" y2="405.32" stroke="#000" stroke-width="1.6"/>
<text x="38.00" y="409.22" text-anchor="end" class="tl">-20</text>
<line x1="48.40" y1="418.60" x2="54.0" y2="418.60" stroke="#000" stroke-width="1.6"/>
<text x="38.00" y="422.50" text-anchor="end" class="tl">-15</text>
<line x1="43.00" y1="431.88" x2="54.0" y2="431.88" stroke="#000" stroke-width="1.6"/>
<text x="38.00" y="435.77" text-anchor="end" class="tl">-10</text>
<line x1="48.40" y1="445.15" x2="54.0" y2="445.15" stroke="#000" stroke-width="1.6"/>
<text x="38.00" y="449.05" text-anchor="end" class="tl">-5</text>
<line x1="43.00" y1="458.42" x2="54.0" y2="458.42" stroke="#000" stroke-width="1.6"/>
<text x="38.00" y="462.32" text-anchor="end" class="tl">0</text>
<line x1="48.40" y1="471.70" x2="54.0" y2="471.70" stroke="#000" stroke-width="1.6"/>
<text x="38.00" y="475.60" text-anchor="end" class="tl">5</text>
<text transform="translate(14.40,390.05) rotate(-90)" text-anchor="middle" class="tl">dB</text>
<circle cx="402.7" cy="390.9" r="13.33" fill="none" stroke="#b0b0b0" stroke-width="1"/>
<circle cx="402.7" cy="390.9" r="40.00" fill="none" stroke="#b0b0b0" stroke-width="1"/>
<circle cx="402.7" cy="390.9" r="66.67" fill="none" stroke="#b0b0b0" stroke-width="1"/>
<line x1="402.7" y1="390.9" x2="402.70" y2="310.90" stroke="#b0b0b0" stroke-width="1"/>
<line x1="402.7" y1="390.9" x2="459.27" y2="334.33" stroke="#b0b0b0" stroke-width="1"/>
<line x1="402.7" y1="390.9" x2="482.70" y2="390.90" stroke="#b0b0b0" stroke-width="1"/>
<line x1="402.7" y1="390.9" x2="459.27" y2="447.47" stroke="#b0b0b0" stroke-width="1"/>
<line x1="402.7" y1="390.9" x2="402.70" y2="470.90" stroke="#b0b0b0" stroke-width="1"/>
<line x1="402.7" y1="390.9" x2="346.13" y2="447.47" stroke="#b0b0b0" stroke-width="1"/>
<line x1="402.7" y1="390.9" x2="322.70" y2="390.90" stroke="#b0b0b0" stroke-width="1"/>
<line x1="402.7" y1="390.9" x2="346.13" y2="334.33" stroke="#b0b0b0" stroke-width="1"/>
<circle cx="402.7" cy="390.9" r="80.0" fill="none" stroke="#222" stroke-width="1.2"/>
<line x1="433.31" y1="316.99" x2="432.17" y2="319.76" stroke="#333" stroke-width="1"/>
<line x1="476.61" y1="360.29" x2="473.84" y2="361.43" stroke="#333" stroke-width="1"/>
<line x1="476.61" y1="421.51" x2="473.84" y2="420.37" stroke="#333" stroke-width="1"/>
<line x1="433.31" y1="464.81" x2="432.17" y2="462.04" stroke="#333" stroke-width="1"/>
<line x1="372.09" y1="464.81" x2="373.23" y2="462.04" stroke="#333" stroke-width="1"/>
<line x1="328.79" y1="421.51" x2="331.56" y2="420.37" stroke="#333" stroke-width="1"/>
<line x1="328.79" y1="360.29" x2="331.56" y2="361.43" stroke="#333" stroke-width="1"/>
<line x1="372.09" y1="316.99" x2="373.23" y2="319.76" stroke="#333" stroke-width="1"/>
<path d="M402.70,344.20 C403.73,344.30 403.27,344.48 404.80,344.90 C406.33,345.32 409.53,345.92 411.90,346.70 C414.27,347.48 416.62,348.42 419.00,349.60 C421.38,350.78 423.82,352.30 426.20,353.80 C428.58,355.30 431.12,356.82 433.30,358.60 C435.48,360.38 437.52,362.52 439.30,364.50 C441.08,366.48 442.62,368.52 444.00,370.50 C445.38,372.48 446.70,374.42 447.60,376.40 C448.50,378.38 449.00,380.42 449.40,382.40 C449.80,384.38 450.00,386.08 450.00,388.30 C450.00,390.52 449.80,392.88 449.40,395.70 C449.00,398.52 448.50,402.22 447.60,405.20 C446.70,408.18 445.58,411.02 444.00,413.60 C442.42,416.18 440.47,418.52 438.10,420.70 C435.73,422.88 432.78,425.02 429.80,426.70 C426.82,428.38 423.83,429.33 420.20,430.80 C416.57,432.27 411.37,434.38 408.00,435.50 C404.63,436.62 402.67,437.17 400.00,437.50 C397.33,437.83 394.33,437.57 392.00,437.50 C389.67,437.43 387.80,437.37 386.00,437.10 C384.20,436.83 382.80,436.50 381.20,435.90 C379.60,435.30 377.98,434.37 376.40,433.50 C374.82,432.63 373.15,431.77 371.70,430.70 C370.25,429.63 369.03,428.35 367.70,427.10 C366.37,425.85 364.83,424.50 363.70,423.20 C362.57,421.90 361.90,420.88 360.90,419.30 C359.90,417.72 358.77,416.08 357.70,413.70 C356.63,411.32 355.43,408.00 354.50,405.00 C353.57,402.00 352.50,398.63 352.10,395.70 C351.70,392.77 351.90,390.42 352.10,387.40 C352.30,384.38 352.70,380.82 353.30,377.60 C353.90,374.38 354.70,370.87 355.70,368.10 C356.70,365.33 357.72,363.18 359.30,361.00 C360.88,358.82 363.02,356.80 365.20,355.00 C367.38,353.20 369.82,351.58 372.40,350.20 C374.98,348.82 377.73,347.58 380.70,346.70 C383.67,345.82 387.22,345.30 390.20,344.90 C393.18,344.50 396.52,344.42 398.60,344.30 C400.68,344.18 401.67,344.10 402.70,344.20Z" fill="none" stroke="#000" stroke-width="1.65" stroke-linejoin="round" stroke-dasharray="2.5 2.5"/>
<path d="M402.70,343.10 C404.22,342.95 404.97,342.80 407.10,343.10 C409.23,343.40 412.72,344.00 415.50,344.90 C418.28,345.80 421.42,347.02 423.80,348.50 C426.18,349.98 428.02,351.72 429.80,353.80 C431.58,355.88 433.52,358.62 434.50,361.00 C435.48,363.38 435.60,365.93 435.70,368.10 C435.80,370.27 435.70,372.02 435.10,374.00 C434.50,375.98 433.18,378.20 432.10,380.00 C431.02,381.80 429.98,383.42 428.60,384.80 C427.22,386.18 425.57,387.30 423.80,388.30 C422.03,389.30 419.80,389.98 418.00,390.80 C416.20,391.62 414.45,392.53 413.00,393.20 C411.55,393.87 409.33,393.90 409.30,394.80 C409.27,395.70 411.60,397.15 412.80,398.60 C414.00,400.05 415.38,401.68 416.50,403.50 C417.62,405.32 418.82,407.58 419.50,409.50 C420.18,411.42 420.38,413.33 420.60,415.00 C420.82,416.67 420.87,417.55 420.80,419.50 C420.73,421.45 420.88,424.32 420.20,426.70 C419.52,429.08 418.27,431.43 416.70,433.80 C415.13,436.17 413.23,439.13 410.80,440.90 C408.37,442.67 405.05,443.68 402.10,444.40 C399.15,445.12 395.53,445.17 393.10,445.20 C390.67,445.23 389.22,444.90 387.50,444.60 C385.78,444.30 384.38,443.93 382.80,443.40 C381.22,442.87 379.58,442.13 378.00,441.40 C376.42,440.67 374.82,439.92 373.30,439.00 C371.78,438.08 370.30,437.08 368.90,435.90 C367.50,434.72 366.17,433.30 364.90,431.90 C363.63,430.50 362.37,429.07 361.30,427.50 C360.23,425.93 359.37,424.67 358.50,422.50 C357.63,420.33 356.67,416.78 356.10,414.50 C355.53,412.22 355.23,411.33 355.10,408.80 C354.97,406.27 354.90,401.93 355.30,399.30 C355.70,396.67 356.55,394.80 357.50,393.00 C358.45,391.20 359.58,389.92 361.00,388.50 C362.42,387.08 364.50,385.52 366.00,384.50 C367.50,383.48 368.15,383.05 370.00,382.40 C371.85,381.75 374.92,381.20 377.10,380.60 C379.28,380.00 381.90,380.08 383.10,378.80 C384.30,377.52 384.10,375.08 384.30,372.90 C384.50,370.72 384.00,368.08 384.30,365.70 C384.60,363.32 385.32,360.78 386.10,358.60 C386.88,356.42 387.92,354.38 389.00,352.60 C390.08,350.82 391.10,349.33 392.60,347.90 C394.10,346.47 396.32,344.80 398.00,344.00 C399.68,343.20 401.18,343.25 402.70,343.10Z" fill="none" stroke="#0a0aff" stroke-width="1.65" stroke-linejoin="round" stroke-dasharray="2.5 2.5"/>
<path d="M402.70,342.50 C403.93,342.00 404.27,341.63 406.00,341.30 C407.73,340.97 410.73,340.40 413.10,340.50 C415.47,340.60 418.22,341.07 420.20,341.90 C422.18,342.73 423.40,344.40 425.00,345.50 C426.60,346.60 428.02,347.82 429.80,348.50 C431.58,349.18 433.72,349.02 435.70,349.60 C437.68,350.18 439.92,350.90 441.70,352.00 C443.48,353.10 445.22,354.52 446.40,356.20 C447.58,357.88 448.10,359.92 448.80,362.10 C449.50,364.28 449.90,367.12 450.60,369.30 C451.30,371.48 452.50,373.42 453.00,375.20 C453.50,376.98 453.77,378.20 453.60,380.00 C453.43,381.80 452.68,384.08 452.00,386.00 C451.32,387.92 450.43,389.68 449.50,391.50 C448.57,393.32 447.22,395.00 446.40,396.90 C445.58,398.80 445.08,400.92 444.60,402.90 C444.12,404.88 443.98,406.82 443.50,408.80 C443.02,410.78 442.60,413.02 441.70,414.80 C440.80,416.58 439.50,418.12 438.10,419.50 C436.70,420.88 434.42,422.18 433.30,423.10 C432.18,424.02 432.50,424.15 431.40,425.00 C430.30,425.85 428.28,426.62 426.70,428.20 C425.12,429.78 424.02,432.78 421.90,434.50 C419.78,436.22 416.65,438.10 414.00,438.50 C411.35,438.90 407.98,436.37 406.00,436.90 C404.02,437.43 403.98,441.15 402.10,441.70 C400.22,442.25 396.47,440.70 394.70,440.20 C392.93,439.70 392.70,439.55 391.50,438.70 C390.30,437.85 388.82,436.63 387.50,435.10 C386.18,433.57 384.78,431.35 383.60,429.50 C382.42,427.65 381.42,425.57 380.40,424.00 C379.38,422.43 378.05,421.82 377.50,420.10 C376.95,418.38 377.35,415.48 377.10,413.70 C376.85,411.92 376.98,410.05 376.00,409.40 C375.02,408.75 372.53,410.13 371.20,409.80 C369.87,409.47 369.20,408.27 368.00,407.40 C366.80,406.53 364.37,405.95 364.00,404.60 C363.63,403.25 365.98,400.78 365.80,399.30 C365.62,397.82 363.88,397.28 362.90,395.70 C361.92,394.12 360.30,391.58 359.90,389.80 C359.50,388.02 360.20,386.03 360.50,385.00 C360.80,383.97 360.82,384.43 361.70,383.60 C362.58,382.77 364.42,381.00 365.80,380.00 C367.18,379.00 369.20,378.60 370.00,377.60 C370.80,376.60 370.40,375.38 370.60,374.00 C370.80,372.62 370.70,370.68 371.20,369.30 C371.70,367.92 372.62,366.70 373.60,365.70 C374.58,364.70 375.92,364.28 377.10,363.30 C378.28,362.32 379.50,361.18 380.70,359.80 C381.90,358.42 383.10,356.50 384.30,355.00 C385.50,353.50 386.52,352.08 387.90,350.80 C389.28,349.52 390.82,348.38 392.60,347.30 C394.38,346.22 396.92,345.10 398.60,344.30 C400.28,343.50 401.47,343.00 402.70,342.50Z" fill="none" stroke="#000" stroke-width="1.65" stroke-linejoin="round"/>
<path d="M402.70,335.20 C404.32,334.82 404.97,334.67 407.10,334.80 C409.23,334.93 412.72,335.32 415.50,336.00 C418.28,336.68 421.22,337.62 423.80,338.90 C426.38,340.18 428.82,341.82 431.00,343.70 C433.18,345.58 435.32,347.72 436.90,350.20 C438.48,352.68 439.70,355.82 440.50,358.60 C441.30,361.38 441.70,364.33 441.70,366.90 C441.70,369.47 441.30,371.82 440.50,374.00 C439.70,376.18 438.48,378.10 436.90,380.00 C435.32,381.90 433.18,383.92 431.00,385.40 C428.82,386.88 425.98,388.13 423.80,388.90 C421.62,389.67 419.88,389.75 417.90,390.00 C415.92,390.25 414.43,390.25 411.90,390.40 C409.37,390.55 403.50,390.02 402.70,390.90 C401.90,391.78 405.37,393.90 407.10,395.70 C408.83,397.50 411.12,399.52 413.10,401.70 C415.08,403.88 417.22,406.42 419.00,408.80 C420.78,411.18 422.50,413.62 423.80,416.00 C425.10,418.38 426.20,420.93 426.80,423.10 C427.40,425.27 427.60,426.82 427.40,429.00 C427.20,431.18 426.40,433.82 425.60,436.20 C424.80,438.58 423.75,441.73 422.60,443.30 C421.45,444.87 420.67,444.15 418.70,445.60 C416.73,447.05 413.97,450.35 410.80,452.00 C407.63,453.65 402.65,454.95 399.70,455.50 C396.75,456.05 395.52,455.53 393.10,455.30 C390.68,455.07 387.98,454.77 385.20,454.10 C382.42,453.43 379.18,452.48 376.40,451.30 C373.62,450.12 371.02,448.65 368.50,447.00 C365.98,445.35 363.55,443.52 361.30,441.40 C359.05,439.28 356.78,437.72 355.00,434.30 C353.22,430.88 351.73,424.47 350.60,420.90 C349.47,417.33 348.73,415.55 348.20,412.90 C347.67,410.25 347.43,407.27 347.40,405.00 C347.37,402.73 347.40,401.63 348.00,399.30 C348.60,396.97 349.72,393.38 351.00,391.00 C352.28,388.62 354.32,386.43 355.70,385.00 C357.08,383.57 357.72,383.23 359.30,382.40 C360.88,381.57 363.02,380.80 365.20,380.00 C367.38,379.20 370.32,378.30 372.40,377.60 C374.48,376.90 376.92,377.58 377.70,375.80 C378.48,374.02 377.10,369.57 377.10,366.90 C377.10,364.23 377.20,362.18 377.70,359.80 C378.20,357.42 379.00,354.88 380.10,352.60 C381.20,350.32 382.62,348.08 384.30,346.10 C385.98,344.12 388.02,342.20 390.20,340.70 C392.38,339.20 395.32,338.02 397.40,337.10 C399.48,336.18 401.08,335.58 402.70,335.20Z" fill="none" stroke="#0a0aff" stroke-width="1.65" stroke-linejoin="round"/>
<text x="402.70" y="305.90" text-anchor="middle" class="al">0</text>
<text x="458.60" y="333.40" text-anchor="start" class="al">45</text>
<text x="485.60" y="393.90" text-anchor="start" class="al">90</text>
<text x="457.60" y="455.90" text-anchor="start" class="al">135</text>
<text x="402.70" y="482.60" text-anchor="middle" class="al">180</text>
<text x="348.30" y="455.60" text-anchor="end" class="al">225</text>
<text x="320.10" y="394.70" text-anchor="end" class="al">270</text>
<text x="347.60" y="333.40" text-anchor="end" class="al">315</text>
<line x1="300.3" y1="311.59999999999997" x2="300.3" y2="472.5" stroke="#000" stroke-width="1.6"/>
<line x1="295.50" y1="312.40" x2="301.1" y2="312.40" stroke="#000" stroke-width="1.6"/>
<text x="285.10" y="316.30" text-anchor="end" class="tl">5</text>
<line x1="290.10" y1="325.67" x2="301.1" y2="325.67" stroke="#000" stroke-width="1.6"/>
<text x="285.10" y="329.57" text-anchor="end" class="tl">0</text>
<line x1="295.50" y1="338.95" x2="301.1" y2="338.95" stroke="#000" stroke-width="1.6"/>
<text x="285.10" y="342.85" text-anchor="end" class="tl">-5</text>
<line x1="290.10" y1="352.22" x2="301.1" y2="352.22" stroke="#000" stroke-width="1.6"/>
<text x="285.10" y="356.12" text-anchor="end" class="tl">-10</text>
<line x1="295.50" y1="365.50" x2="301.1" y2="365.50" stroke="#000" stroke-width="1.6"/>
<text x="285.10" y="369.40" text-anchor="end" class="tl">-15</text>
<line x1="290.10" y1="378.77" x2="301.1" y2="378.77" stroke="#000" stroke-width="1.6"/>
<text x="285.10" y="382.67" text-anchor="end" class="tl">-20</text>
<line x1="295.50" y1="392.05" x2="301.1" y2="392.05" stroke="#000" stroke-width="1.6"/>
<text x="285.10" y="395.95" text-anchor="end" class="tl">-25</text>
<line x1="290.10" y1="405.32" x2="301.1" y2="405.32" stroke="#000" stroke-width="1.6"/>
<text x="285.10" y="409.22" text-anchor="end" class="tl">-20</text>
<line x1="295.50" y1="418.60" x2="301.1" y2="418.60" stroke="#000" stroke-width="1.6"/>
<text x="285.10" y="422.50" text-anchor="end" class="tl">-15</text>
<line x1="290.10" y1="431.88" x2="301.1" y2="431.88" stroke="#000" stroke-width="1.6"/>
<text x="285.10" y="435.77" text-anchor="end" class="tl">-10</text>
<line x1="295.50" y1="445.15" x2="301.1" y2="445.15" stroke="#000" stroke-width="1.6"/>
<text x="285.10" y="449.05" text-anchor="end" class="tl">-5</text>
<line x1="290.10" y1="458.42" x2="301.1" y2="458.42" stroke="#000" stroke-width="1.6"/>
<text x="285.10" y="462.32" text-anchor="end" class="tl">0</text>
<line x1="295.50" y1="471.70" x2="301.1" y2="471.70" stroke="#000" stroke-width="1.6"/>
<text x="285.10" y="475.60" text-anchor="end" class="tl">5</text>
<text transform="translate(261.50,390.05) rotate(-90)" text-anchor="middle" class="tl">dB</text>
<text transform="translate(53.9,226.9) scale(1,1.1)" class="tt">Simulated_2.1 GHz (E&amp;<tspan class="b" fill="#0a0aff">H</tspan>-plane)</text>
<text x="54.4" y="240.3" class="st">Blake line=E-plane ; <tspan class="b" fill="#0a0aff">Blue line=H-plane</tspan></text>
<text transform="translate(287.6,226.4) scale(1,1.1)" class="tt">Measured_2.1 GHz (E&amp;<tspan class="b" fill="#0a0aff">H</tspan>-plane)</text>
<text x="287.6" y="240.5" class="st">Blake line=E-plane ; <tspan class="b" fill="#0a0aff">Blue line=H-plane</tspan></text>
<text transform="translate(53.9,497.5) scale(1,1.1)" class="tt">Simulated_3.6 GHz (E&amp;<tspan class="b" fill="#0a0aff">H</tspan>-plane)</text>
<text x="54.3" y="511.3" class="st">Blake line=E-plane ; <tspan class="b" fill="#0a0aff">Blue line=H-plane</tspan></text>
<text transform="translate(286.8,497.2) scale(1,1.1)" class="tt">Measured_3.6 GHz (E&amp;<tspan class="b" fill="#0a0aff">H</tspan>-plane)</text>
<text x="287.1" y="511.3" class="st">Blake line=E-plane ; <tspan class="b" fill="#0a0aff">Blue line=H-plane</tspan></text>
<text x="250.9" y="268.6" text-anchor="middle" class="sub">(<tspan class="bl">a</tspan>)</text>
<text x="250.75" y="539.9" text-anchor="middle" class="sub">(<tspan class="bl">b</tspan>)</text>
</svg></body></html>
